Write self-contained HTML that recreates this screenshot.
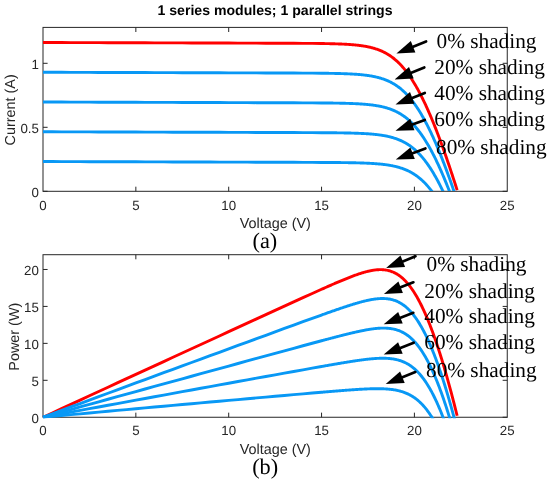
<!DOCTYPE html><html><head><meta charset="utf-8"><style>html,body{margin:0;padding:0;background:#fff}svg{display:block}</style></head><body><svg width="550" height="485" viewBox="0 0 550 485">
<rect width="550" height="485" fill="#fff"/>
<g text-rendering="geometricPrecision">
<defs><clipPath id="c1"><rect x="41.0" y="27.4" width="468.25" height="163.70000000000002"/></clipPath><clipPath id="c2"><rect x="41.0" y="254.7" width="468.25" height="163.55"/></clipPath></defs>
<g stroke="#262626" stroke-width="1" fill="none">
<rect x="43.0" y="27.4" width="464.25" height="163.9"/>
<path d="M135.85,191.3 v-4.6 M135.85,27.4 v4.6"/>
<path d="M228.70,191.3 v-4.6 M228.70,27.4 v4.6"/>
<path d="M321.55,191.3 v-4.6 M321.55,27.4 v4.6"/>
<path d="M414.40,191.3 v-4.6 M414.40,27.4 v4.6"/>
<path d="M43.0,191.30 h4.6 M507.25,191.30 h-4.6"/>
<path d="M43.0,127.30 h4.6 M507.25,127.30 h-4.6"/>
<path d="M43.0,63.30 h4.6 M507.25,63.30 h-4.6"/>
</g>
<g font-family="Liberation Sans, Arial, sans-serif" font-size="13.3" fill="#262626">
<text x="43.00" y="209.5" text-anchor="middle">0</text>
<text x="135.85" y="209.5" text-anchor="middle">5</text>
<text x="228.70" y="209.5" text-anchor="middle">10</text>
<text x="321.55" y="209.5" text-anchor="middle">15</text>
<text x="414.40" y="209.5" text-anchor="middle">20</text>
<text x="507.25" y="209.5" text-anchor="middle">25</text>
<text x="38.9" y="196.80" text-anchor="end">0</text>
<text x="38.9" y="132.80" text-anchor="end">0.5</text>
<text x="38.9" y="68.80" text-anchor="end">1</text>
</g>
<g stroke="#262626" stroke-width="1" fill="none">
<rect x="43.0" y="254.7" width="464.25" height="162.55"/>
<path d="M135.85,417.25 v-4.6 M135.85,254.7 v4.6"/>
<path d="M228.70,417.25 v-4.6 M228.70,254.7 v4.6"/>
<path d="M321.55,417.25 v-4.6 M321.55,254.7 v4.6"/>
<path d="M414.40,417.25 v-4.6 M414.40,254.7 v4.6"/>
<path d="M43.0,417.25 h4.6 M507.25,417.25 h-4.6"/>
<path d="M43.0,380.31 h4.6 M507.25,380.31 h-4.6"/>
<path d="M43.0,343.36 h4.6 M507.25,343.36 h-4.6"/>
<path d="M43.0,306.42 h4.6 M507.25,306.42 h-4.6"/>
<path d="M43.0,269.48 h4.6 M507.25,269.48 h-4.6"/>
</g>
<g font-family="Liberation Sans, Arial, sans-serif" font-size="13.3" fill="#262626">
<text x="43.00" y="435.45" text-anchor="middle">0</text>
<text x="135.85" y="435.45" text-anchor="middle">5</text>
<text x="228.70" y="435.45" text-anchor="middle">10</text>
<text x="321.55" y="435.45" text-anchor="middle">15</text>
<text x="414.40" y="435.45" text-anchor="middle">20</text>
<text x="507.25" y="435.45" text-anchor="middle">25</text>
<text x="38.9" y="422.75" text-anchor="end">0</text>
<text x="38.9" y="385.81" text-anchor="end">5</text>
<text x="38.9" y="348.86" text-anchor="end">10</text>
<text x="38.9" y="311.92" text-anchor="end">15</text>
<text x="38.9" y="274.98" text-anchor="end">20</text>
</g>
<path d="M43.00,42.49 L52.28,42.52 L61.57,42.55 L70.86,42.58 L80.14,42.61 L89.42,42.64 L98.71,42.67 L108.00,42.69 L117.28,42.72 L126.56,42.75 L135.85,42.78 L145.13,42.81 L154.42,42.84 L163.70,42.87 L172.99,42.89 L182.28,42.92 L191.56,42.95 L200.84,42.98 L210.13,43.01 L219.41,43.04 L228.70,43.07 L237.99,43.10 L247.27,43.12 L256.56,43.15 L265.84,43.19 L275.12,43.22 L284.41,43.25 L293.69,43.30 L302.98,43.35 L312.26,43.42 L321.55,43.53 L322.48,43.54 L323.10,43.55 L323.71,43.56 L324.33,43.57 L324.95,43.58 L325.57,43.59 L326.18,43.61 L326.80,43.62 L327.42,43.63 L328.04,43.64 L328.66,43.65 L329.27,43.67 L329.89,43.68 L330.51,43.69 L331.13,43.71 L331.74,43.72 L332.36,43.74 L332.98,43.76 L333.60,43.77 L334.21,43.79 L334.83,43.81 L335.45,43.83 L336.07,43.85 L336.69,43.87 L337.30,43.89 L337.92,43.91 L338.54,43.93 L339.16,43.95 L339.77,43.98 L340.39,44.00 L341.01,44.03 L341.63,44.05 L342.25,44.08 L342.86,44.11 L343.48,44.14 L344.10,44.17 L344.72,44.20 L345.33,44.23 L345.95,44.27 L346.57,44.30 L347.19,44.34 L347.80,44.38 L348.42,44.42 L349.04,44.46 L349.66,44.50 L350.28,44.55 L350.89,44.59 L351.51,44.64 L352.13,44.69 L352.75,44.74 L353.36,44.79 L353.98,44.85 L354.60,44.90 L355.22,44.96 L355.83,45.03 L356.45,45.09 L357.07,45.16 L357.69,45.22 L358.31,45.30 L358.92,45.37 L359.54,45.45 L360.16,45.53 L360.78,45.61 L361.39,45.69 L362.01,45.78 L362.63,45.87 L363.25,45.97 L363.86,46.07 L364.48,46.17 L365.10,46.28 L365.72,46.39 L366.34,46.50 L366.95,46.62 L367.57,46.74 L368.19,46.87 L368.81,47.00 L369.42,47.14 L370.04,47.28 L370.66,47.43 L371.28,47.58 L371.89,47.74 L372.51,47.90 L373.13,48.07 L373.75,48.25 L374.37,48.43 L374.98,48.62 L375.60,48.81 L376.22,49.01 L376.84,49.22 L377.45,49.43 L378.07,49.65 L378.69,49.88 L379.31,50.12 L379.93,50.37 L380.54,50.62 L381.16,50.88 L381.78,51.15 L382.40,51.43 L383.01,51.72 L383.63,52.02 L384.25,52.33 L384.87,52.65 L385.48,52.97 L386.10,53.31 L386.72,53.66 L387.34,54.02 L387.96,54.39 L388.57,54.77 L389.19,55.16 L389.81,55.57 L390.43,55.99 L391.04,56.42 L391.66,56.86 L392.28,57.31 L392.90,57.78 L393.51,58.26 L394.13,58.75 L394.75,59.26 L395.37,59.78 L395.99,60.32 L396.60,60.86 L397.22,61.43 L397.84,62.01 L398.46,62.60 L399.07,63.21 L399.69,63.83 L400.31,64.47 L400.93,65.12 L401.54,65.79 L402.16,66.48 L402.78,67.18 L403.40,67.90 L404.02,68.63 L404.63,69.38 L405.25,70.15 L405.87,70.94 L406.49,71.74 L407.10,72.55 L407.72,73.39 L408.34,74.24 L408.96,75.11 L409.57,75.99 L410.19,76.89 L410.81,77.81 L411.43,78.75 L412.05,79.70 L412.66,80.67 L413.28,81.66 L413.90,82.66 L414.52,83.69 L415.13,84.73 L415.75,85.78 L416.37,86.86 L416.99,87.95 L417.61,89.05 L418.22,90.18 L418.84,91.32 L419.46,92.48 L420.08,93.65 L420.69,94.84 L421.31,96.05 L421.93,97.28 L422.55,98.52 L423.16,99.78 L423.78,101.05 L424.40,102.34 L425.02,103.64 L425.64,104.97 L426.25,106.30 L426.87,107.66 L427.49,109.03 L428.11,110.41 L428.72,111.81 L429.34,113.22 L429.96,114.65 L430.58,116.09 L431.19,117.55 L431.81,119.03 L432.43,120.51 L433.05,122.02 L433.67,123.53 L434.28,125.06 L434.90,126.60 L435.52,128.16 L436.14,129.73 L436.75,131.32 L437.37,132.91 L437.99,134.52 L438.61,136.15 L439.22,137.78 L439.84,139.43 L440.46,141.09 L441.08,142.77 L441.70,144.45 L442.31,146.15 L442.93,147.86 L443.55,149.58 L444.17,151.31 L444.78,153.05 L445.40,154.81 L446.02,156.58 L446.64,158.35 L447.25,160.14 L447.87,161.94 L448.49,163.75 L449.11,165.57 L449.73,167.40 L450.34,169.24 L450.96,171.09 L451.58,172.95 L452.20,174.82 L452.81,176.70 L453.43,178.59 L454.05,180.49 L454.67,182.40 L455.29,184.32 L455.90,186.24 L456.52,188.18 L457.14,190.12" fill="none" stroke="#ff0000" stroke-width="2.9" stroke-linejoin="round" clip-path="url(#c1)"/>
<path d="M43.00,72.26 L52.28,72.28 L61.57,72.31 L70.86,72.34 L80.14,72.37 L89.42,72.40 L98.71,72.43 L108.00,72.46 L117.28,72.48 L126.56,72.51 L135.85,72.54 L145.13,72.57 L154.42,72.60 L163.70,72.63 L172.99,72.66 L182.28,72.68 L191.56,72.71 L200.84,72.74 L210.13,72.77 L219.41,72.80 L228.70,72.83 L237.99,72.86 L247.27,72.89 L256.56,72.91 L265.84,72.94 L275.12,72.98 L284.41,73.01 L293.69,73.05 L302.98,73.09 L312.26,73.15 L321.55,73.23 L322.48,73.24 L323.10,73.25 L323.71,73.26 L324.33,73.26 L324.95,73.27 L325.57,73.28 L326.18,73.29 L326.80,73.30 L327.42,73.30 L328.04,73.31 L328.66,73.32 L329.27,73.33 L329.89,73.34 L330.51,73.35 L331.13,73.36 L331.74,73.37 L332.36,73.38 L332.98,73.40 L333.60,73.41 L334.21,73.42 L334.83,73.43 L335.45,73.45 L336.07,73.46 L336.69,73.47 L337.30,73.49 L337.92,73.50 L338.54,73.52 L339.16,73.53 L339.77,73.55 L340.39,73.57 L341.01,73.59 L341.63,73.60 L342.25,73.62 L342.86,73.64 L343.48,73.66 L344.10,73.68 L344.72,73.71 L345.33,73.73 L345.95,73.75 L346.57,73.78 L347.19,73.80 L347.80,73.83 L348.42,73.86 L349.04,73.88 L349.66,73.91 L350.28,73.94 L350.89,73.98 L351.51,74.01 L352.13,74.04 L352.75,74.08 L353.36,74.11 L353.98,74.15 L354.60,74.19 L355.22,74.23 L355.83,74.28 L356.45,74.32 L357.07,74.36 L357.69,74.41 L358.31,74.46 L358.92,74.51 L359.54,74.56 L360.16,74.62 L360.78,74.68 L361.39,74.74 L362.01,74.80 L362.63,74.86 L363.25,74.93 L363.86,74.99 L364.48,75.07 L365.10,75.14 L365.72,75.22 L366.34,75.29 L366.95,75.38 L367.57,75.46 L368.19,75.55 L368.81,75.64 L369.42,75.74 L370.04,75.83 L370.66,75.94 L371.28,76.04 L371.89,76.15 L372.51,76.27 L373.13,76.38 L373.75,76.51 L374.37,76.63 L374.98,76.76 L375.60,76.90 L376.22,77.04 L376.84,77.19 L377.45,77.34 L378.07,77.50 L378.69,77.66 L379.31,77.83 L379.93,78.00 L380.54,78.18 L381.16,78.37 L381.78,78.56 L382.40,78.76 L383.01,78.97 L383.63,79.18 L384.25,79.40 L384.87,79.63 L385.48,79.87 L386.10,80.11 L386.72,80.36 L387.34,80.62 L387.96,80.89 L388.57,81.17 L389.19,81.46 L389.81,81.76 L390.43,82.06 L391.04,82.38 L391.66,82.70 L392.28,83.04 L392.90,83.39 L393.51,83.75 L394.13,84.11 L394.75,84.49 L395.37,84.89 L395.99,85.29 L396.60,85.70 L397.22,86.13 L397.84,86.57 L398.46,87.02 L399.07,87.49 L399.69,87.97 L400.31,88.46 L400.93,88.96 L401.54,89.48 L402.16,90.02 L402.78,90.56 L403.40,91.12 L404.02,91.70 L404.63,92.29 L405.25,92.90 L405.87,93.52 L406.49,94.15 L407.10,94.81 L407.72,95.47 L408.34,96.16 L408.96,96.86 L409.57,97.57 L410.19,98.30 L410.81,99.05 L411.43,99.82 L412.05,100.60 L412.66,101.40 L413.28,102.21 L413.90,103.04 L414.52,103.89 L415.13,104.76 L415.75,105.64 L416.37,106.54 L416.99,107.45 L417.61,108.39 L418.22,109.34 L418.84,110.31 L419.46,111.29 L420.08,112.29 L420.69,113.31 L421.31,114.35 L421.93,115.40 L422.55,116.47 L423.16,117.56 L423.78,118.67 L424.40,119.79 L425.02,120.93 L425.64,122.08 L426.25,123.26 L426.87,124.45 L427.49,125.65 L428.11,126.87 L428.72,128.11 L429.34,129.37 L429.96,130.64 L430.58,131.93 L431.19,133.23 L431.81,134.55 L432.43,135.88 L433.05,137.23 L433.67,138.60 L434.28,139.98 L434.90,141.38 L435.52,142.79 L436.14,144.22 L436.75,145.66 L437.37,147.12 L437.99,148.59 L438.61,150.07 L439.22,151.57 L439.84,153.08 L440.46,154.61 L441.08,156.15 L441.70,157.71 L442.31,159.28 L442.93,160.86 L443.55,162.45 L444.17,164.06 L444.78,165.68 L445.40,167.32 L446.02,168.97 L446.64,170.62 L447.25,172.30 L447.87,173.98 L448.49,175.67 L449.11,177.38 L449.73,179.10 L450.34,180.83 L450.96,182.57 L451.58,184.33 L452.20,186.09 L452.81,187.87 L453.43,189.66 L454.05,191.45 L454.67,193.26 L455.29,195.08 L455.90,196.91 L456.52,198.75" fill="none" stroke="#0898f5" stroke-width="2.9" stroke-linejoin="round" clip-path="url(#c1)"/>
<path d="M43.00,102.02 L52.28,102.05 L61.57,102.07 L70.86,102.10 L80.14,102.13 L89.42,102.16 L98.71,102.19 L108.00,102.22 L117.28,102.25 L126.56,102.27 L135.85,102.30 L145.13,102.33 L154.42,102.36 L163.70,102.39 L172.99,102.42 L182.28,102.45 L191.56,102.47 L200.84,102.50 L210.13,102.53 L219.41,102.56 L228.70,102.59 L237.99,102.62 L247.27,102.65 L256.56,102.68 L265.84,102.70 L275.12,102.74 L284.41,102.77 L293.69,102.80 L302.98,102.84 L312.26,102.89 L321.55,102.95 L322.48,102.96 L323.10,102.97 L323.71,102.97 L324.33,102.98 L324.95,102.98 L325.57,102.99 L326.18,103.00 L326.80,103.00 L327.42,103.01 L328.04,103.01 L328.66,103.02 L329.27,103.03 L329.89,103.04 L330.51,103.04 L331.13,103.05 L331.74,103.06 L332.36,103.07 L332.98,103.07 L333.60,103.08 L334.21,103.09 L334.83,103.10 L335.45,103.11 L336.07,103.12 L336.69,103.13 L337.30,103.14 L337.92,103.15 L338.54,103.16 L339.16,103.17 L339.77,103.19 L340.39,103.20 L341.01,103.21 L341.63,103.22 L342.25,103.24 L342.86,103.25 L343.48,103.27 L344.10,103.28 L344.72,103.30 L345.33,103.31 L345.95,103.33 L346.57,103.35 L347.19,103.36 L347.80,103.38 L348.42,103.40 L349.04,103.42 L349.66,103.44 L350.28,103.46 L350.89,103.48 L351.51,103.51 L352.13,103.53 L352.75,103.55 L353.36,103.58 L353.98,103.61 L354.60,103.63 L355.22,103.66 L355.83,103.69 L356.45,103.72 L357.07,103.75 L357.69,103.78 L358.31,103.82 L358.92,103.85 L359.54,103.89 L360.16,103.93 L360.78,103.97 L361.39,104.01 L362.01,104.05 L362.63,104.09 L363.25,104.14 L363.86,104.19 L364.48,104.23 L365.10,104.28 L365.72,104.34 L366.34,104.39 L366.95,104.45 L367.57,104.51 L368.19,104.57 L368.81,104.63 L369.42,104.70 L370.04,104.76 L370.66,104.84 L371.28,104.91 L371.89,104.98 L372.51,105.06 L373.13,105.14 L373.75,105.23 L374.37,105.32 L374.98,105.41 L375.60,105.50 L376.22,105.60 L376.84,105.70 L377.45,105.81 L378.07,105.92 L378.69,106.03 L379.31,106.15 L379.93,106.27 L380.54,106.39 L381.16,106.53 L381.78,106.66 L382.40,106.80 L383.01,106.95 L383.63,107.10 L384.25,107.25 L384.87,107.41 L385.48,107.58 L386.10,107.75 L386.72,107.93 L387.34,108.12 L387.96,108.31 L388.57,108.51 L389.19,108.72 L389.81,108.93 L390.43,109.15 L391.04,109.38 L391.66,109.61 L392.28,109.85 L392.90,110.11 L393.51,110.37 L394.13,110.63 L394.75,110.91 L395.37,111.20 L395.99,111.49 L396.60,111.80 L397.22,112.11 L397.84,112.44 L398.46,112.77 L399.07,113.12 L399.69,113.47 L400.31,113.84 L400.93,114.22 L401.54,114.61 L402.16,115.01 L402.78,115.42 L403.40,115.85 L404.02,116.29 L404.63,116.74 L405.25,117.20 L405.87,117.68 L406.49,118.16 L407.10,118.67 L407.72,119.18 L408.34,119.72 L408.96,120.26 L409.57,120.82 L410.19,121.39 L410.81,121.98 L411.43,122.59 L412.05,123.21 L412.66,123.84 L413.28,124.49 L413.90,125.15 L414.52,125.84 L415.13,126.53 L415.75,127.25 L416.37,127.97 L416.99,128.72 L417.61,129.48 L418.22,130.26 L418.84,131.06 L419.46,131.87 L420.08,132.70 L420.69,133.54 L421.31,134.41 L421.93,135.29 L422.55,136.18 L423.16,137.10 L423.78,138.03 L424.40,138.98 L425.02,139.94 L425.64,140.92 L426.25,141.92 L426.87,142.94 L427.49,143.97 L428.11,145.03 L428.72,146.09 L429.34,147.18 L429.96,148.28 L430.58,149.40 L431.19,150.54 L431.81,151.69 L432.43,152.86 L433.05,154.05 L433.67,155.25 L434.28,156.47 L434.90,157.71 L435.52,158.96 L436.14,160.23 L436.75,161.51 L437.37,162.82 L437.99,164.13 L438.61,165.46 L439.22,166.81 L439.84,168.18 L440.46,169.56 L441.08,170.95 L441.70,172.36 L442.31,173.78 L442.93,175.22 L443.55,176.68 L444.17,178.15 L444.78,179.63 L445.40,181.13 L446.02,182.64 L446.64,184.16 L447.25,185.70 L447.87,187.26 L448.49,188.82 L449.11,190.40 L449.73,192.00 L450.34,193.60 L450.96,195.22 L451.58,196.85 L452.20,198.50" fill="none" stroke="#0898f5" stroke-width="2.9" stroke-linejoin="round" clip-path="url(#c1)"/>
<path d="M43.00,131.78 L52.28,131.81 L61.57,131.83 L70.86,131.86 L80.14,131.89 L89.42,131.92 L98.71,131.95 L108.00,131.98 L117.28,132.01 L126.56,132.03 L135.85,132.06 L145.13,132.09 L154.42,132.12 L163.70,132.15 L172.99,132.18 L182.28,132.21 L191.56,132.24 L200.84,132.26 L210.13,132.29 L219.41,132.32 L228.70,132.35 L237.99,132.38 L247.27,132.41 L256.56,132.44 L265.84,132.47 L275.12,132.50 L284.41,132.53 L293.69,132.56 L302.98,132.59 L312.26,132.64 L321.55,132.69 L322.48,132.69 L323.10,132.70 L323.71,132.70 L324.33,132.71 L324.95,132.71 L325.57,132.72 L326.18,132.72 L326.80,132.73 L327.42,132.73 L328.04,132.74 L328.66,132.74 L329.27,132.75 L329.89,132.75 L330.51,132.76 L331.13,132.76 L331.74,132.77 L332.36,132.78 L332.98,132.78 L333.60,132.79 L334.21,132.79 L334.83,132.80 L335.45,132.81 L336.07,132.82 L336.69,132.82 L337.30,132.83 L337.92,132.84 L338.54,132.85 L339.16,132.85 L339.77,132.86 L340.39,132.87 L341.01,132.88 L341.63,132.89 L342.25,132.90 L342.86,132.91 L343.48,132.92 L344.10,132.93 L344.72,132.94 L345.33,132.95 L345.95,132.96 L346.57,132.98 L347.19,132.99 L347.80,133.00 L348.42,133.02 L349.04,133.03 L349.66,133.04 L350.28,133.06 L350.89,133.07 L351.51,133.09 L352.13,133.11 L352.75,133.12 L353.36,133.14 L353.98,133.16 L354.60,133.18 L355.22,133.20 L355.83,133.22 L356.45,133.24 L357.07,133.26 L357.69,133.28 L358.31,133.31 L358.92,133.33 L359.54,133.36 L360.16,133.38 L360.78,133.41 L361.39,133.44 L362.01,133.47 L362.63,133.50 L363.25,133.53 L363.86,133.56 L364.48,133.59 L365.10,133.63 L365.72,133.66 L366.34,133.70 L366.95,133.74 L367.57,133.78 L368.19,133.82 L368.81,133.87 L369.42,133.91 L370.04,133.96 L370.66,134.01 L371.28,134.06 L371.89,134.11 L372.51,134.16 L373.13,134.22 L373.75,134.28 L374.37,134.34 L374.98,134.40 L375.60,134.47 L376.22,134.53 L376.84,134.60 L377.45,134.68 L378.07,134.75 L378.69,134.83 L379.31,134.91 L379.93,135.00 L380.54,135.08 L381.16,135.17 L381.78,135.27 L382.40,135.37 L383.01,135.47 L383.63,135.57 L384.25,135.68 L384.87,135.79 L385.48,135.91 L386.10,136.03 L386.72,136.16 L387.34,136.29 L387.96,136.42 L388.57,136.56 L389.19,136.70 L389.81,136.85 L390.43,137.01 L391.04,137.17 L391.66,137.34 L392.28,137.51 L392.90,137.69 L393.51,137.87 L394.13,138.06 L394.75,138.26 L395.37,138.47 L395.99,138.68 L396.60,138.90 L397.22,139.12 L397.84,139.36 L398.46,139.60 L399.07,139.85 L399.69,140.11 L400.31,140.37 L400.93,140.65 L401.54,140.93 L402.16,141.23 L402.78,141.53 L403.40,141.84 L404.02,142.17 L404.63,142.50 L405.25,142.84 L405.87,143.20 L406.49,143.56 L407.10,143.94 L407.72,144.33 L408.34,144.73 L408.96,145.14 L409.57,145.56 L410.19,146.00 L410.81,146.45 L411.43,146.91 L412.05,147.38 L412.66,147.87 L413.28,148.37 L413.90,148.89 L414.52,149.42 L415.13,149.96 L415.75,150.52 L416.37,151.09 L416.99,151.67 L417.61,152.28 L418.22,152.89 L418.84,153.52 L419.46,154.17 L420.08,154.83 L420.69,155.51 L421.31,156.21 L421.93,156.92 L422.55,157.65 L423.16,158.39 L423.78,159.15 L424.40,159.92 L425.02,160.72 L425.64,161.53 L426.25,162.35 L426.87,163.20 L427.49,164.06 L428.11,164.93 L428.72,165.83 L429.34,166.74 L429.96,167.67 L430.58,168.61 L431.19,169.58 L431.81,170.56 L432.43,171.55 L433.05,172.57 L433.67,173.60 L434.28,174.65 L434.90,175.72 L435.52,176.80 L436.14,177.90 L436.75,179.01 L437.37,180.15 L437.99,181.30 L438.61,182.47 L439.22,183.65 L439.84,184.85 L440.46,186.07 L441.08,187.30 L441.70,188.55 L442.31,189.82 L442.93,191.10 L443.55,192.40 L444.17,193.72 L444.78,195.05 L445.40,196.39 L446.02,197.75" fill="none" stroke="#0898f5" stroke-width="2.9" stroke-linejoin="round" clip-path="url(#c1)"/>
<path d="M43.00,161.54 L52.28,161.57 L61.57,161.60 L70.86,161.62 L80.14,161.65 L89.42,161.68 L98.71,161.71 L108.00,161.74 L117.28,161.77 L126.56,161.80 L135.85,161.82 L145.13,161.85 L154.42,161.88 L163.70,161.91 L172.99,161.94 L182.28,161.97 L191.56,162.00 L200.84,162.02 L210.13,162.05 L219.41,162.08 L228.70,162.11 L237.99,162.14 L247.27,162.17 L256.56,162.20 L265.84,162.23 L275.12,162.26 L284.41,162.29 L293.69,162.32 L302.98,162.35 L312.26,162.39 L321.55,162.43 L322.48,162.44 L323.10,162.44 L323.71,162.44 L324.33,162.45 L324.95,162.45 L325.57,162.46 L326.18,162.46 L326.80,162.46 L327.42,162.47 L328.04,162.47 L328.66,162.47 L329.27,162.48 L329.89,162.48 L330.51,162.49 L331.13,162.49 L331.74,162.50 L332.36,162.50 L332.98,162.51 L333.60,162.51 L334.21,162.52 L334.83,162.52 L335.45,162.53 L336.07,162.53 L336.69,162.54 L337.30,162.54 L337.92,162.55 L338.54,162.55 L339.16,162.56 L339.77,162.57 L340.39,162.57 L341.01,162.58 L341.63,162.59 L342.25,162.59 L342.86,162.60 L343.48,162.61 L344.10,162.62 L344.72,162.63 L345.33,162.63 L345.95,162.64 L346.57,162.65 L347.19,162.66 L347.80,162.67 L348.42,162.68 L349.04,162.69 L349.66,162.70 L350.28,162.71 L350.89,162.72 L351.51,162.73 L352.13,162.74 L352.75,162.76 L353.36,162.77 L353.98,162.78 L354.60,162.79 L355.22,162.81 L355.83,162.82 L356.45,162.84 L357.07,162.85 L357.69,162.87 L358.31,162.88 L358.92,162.90 L359.54,162.92 L360.16,162.94 L360.78,162.96 L361.39,162.98 L362.01,163.00 L362.63,163.02 L363.25,163.04 L363.86,163.06 L364.48,163.08 L365.10,163.11 L365.72,163.13 L366.34,163.16 L366.95,163.19 L367.57,163.21 L368.19,163.24 L368.81,163.27 L369.42,163.30 L370.04,163.34 L370.66,163.37 L371.28,163.40 L371.89,163.44 L372.51,163.48 L373.13,163.52 L373.75,163.56 L374.37,163.60 L374.98,163.64 L375.60,163.69 L376.22,163.73 L376.84,163.78 L377.45,163.83 L378.07,163.88 L378.69,163.94 L379.31,163.99 L379.93,164.05 L380.54,164.11 L381.16,164.17 L381.78,164.24 L382.40,164.30 L383.01,164.37 L383.63,164.45 L384.25,164.52 L384.87,164.60 L385.48,164.68 L386.10,164.76 L386.72,164.85 L387.34,164.94 L387.96,165.03 L388.57,165.13 L389.19,165.23 L389.81,165.34 L390.43,165.44 L391.04,165.56 L391.66,165.67 L392.28,165.79 L392.90,165.92 L393.51,166.05 L394.13,166.18 L394.75,166.32 L395.37,166.46 L395.99,166.61 L396.60,166.77 L397.22,166.93 L397.84,167.09 L398.46,167.26 L399.07,167.44 L399.69,167.62 L400.31,167.81 L400.93,168.01 L401.54,168.21 L402.16,168.43 L402.78,168.64 L403.40,168.87 L404.02,169.10 L404.63,169.34 L405.25,169.59 L405.87,169.85 L406.49,170.11 L407.10,170.39 L407.72,170.67 L408.34,170.96 L408.96,171.27 L409.57,171.58 L410.19,171.90 L410.81,172.23 L411.43,172.57 L412.05,172.93 L412.66,173.29 L413.28,173.66 L413.90,174.05 L414.52,174.45 L415.13,174.86 L415.75,175.28 L416.37,175.71 L416.99,176.16 L417.61,176.62 L418.22,177.09 L418.84,177.58 L419.46,178.08 L420.08,178.59 L420.69,179.12 L421.31,179.66 L421.93,180.21 L422.55,180.78 L423.16,181.37 L423.78,181.97 L424.40,182.58 L425.02,183.21 L425.64,183.86 L426.25,184.52 L426.87,185.19 L427.49,185.88 L428.11,186.59 L428.72,187.32 L429.34,188.06 L429.96,188.81 L430.58,189.59 L431.19,190.38 L431.81,191.19 L432.43,192.01 L433.05,192.85 L433.67,193.71 L434.28,194.58 L434.90,195.47 L435.52,196.38 L436.14,197.31 L436.75,198.25" fill="none" stroke="#0898f5" stroke-width="2.9" stroke-linejoin="round" clip-path="url(#c1)"/>
<path d="M43.00,417.25 L52.28,412.96 L61.57,408.66 L70.86,404.37 L80.14,400.08 L89.42,395.80 L98.71,391.51 L108.00,387.23 L117.28,382.94 L126.56,378.66 L135.85,374.38 L145.13,370.11 L154.42,365.83 L163.70,361.56 L172.99,357.28 L182.28,353.01 L191.56,348.74 L200.84,344.48 L210.13,340.21 L219.41,335.95 L228.70,331.68 L237.99,327.42 L247.27,323.16 L256.56,318.91 L265.84,314.65 L275.12,310.40 L284.41,306.16 L293.69,301.91 L302.98,297.69 L312.26,293.48 L321.55,289.30 L322.48,288.89 L323.10,288.61 L323.71,288.34 L324.33,288.06 L324.95,287.79 L325.57,287.51 L326.18,287.24 L326.80,286.97 L327.42,286.69 L328.04,286.42 L328.66,286.15 L329.27,285.88 L329.89,285.61 L330.51,285.33 L331.13,285.06 L331.74,284.79 L332.36,284.52 L332.98,284.26 L333.60,283.99 L334.21,283.72 L334.83,283.45 L335.45,283.19 L336.07,282.92 L336.69,282.66 L337.30,282.39 L337.92,282.13 L338.54,281.87 L339.16,281.60 L339.77,281.34 L340.39,281.08 L341.01,280.82 L341.63,280.57 L342.25,280.31 L342.86,280.05 L343.48,279.80 L344.10,279.54 L344.72,279.29 L345.33,279.04 L345.95,278.79 L346.57,278.54 L347.19,278.29 L347.80,278.05 L348.42,277.80 L349.04,277.56 L349.66,277.32 L350.28,277.08 L350.89,276.84 L351.51,276.60 L352.13,276.37 L352.75,276.14 L353.36,275.91 L353.98,275.68 L354.60,275.45 L355.22,275.23 L355.83,275.01 L356.45,274.79 L357.07,274.57 L357.69,274.36 L358.31,274.15 L358.92,273.94 L359.54,273.74 L360.16,273.54 L360.78,273.34 L361.39,273.14 L362.01,272.95 L362.63,272.76 L363.25,272.58 L363.86,272.40 L364.48,272.22 L365.10,272.05 L365.72,271.88 L366.34,271.72 L366.95,271.56 L367.57,271.41 L368.19,271.26 L368.81,271.11 L369.42,270.98 L370.04,270.84 L370.66,270.72 L371.28,270.60 L371.89,270.48 L372.51,270.37 L373.13,270.27 L373.75,270.18 L374.37,270.09 L374.98,270.01 L375.60,269.93 L376.22,269.87 L376.84,269.81 L377.45,269.76 L378.07,269.72 L378.69,269.69 L379.31,269.66 L379.93,269.65 L380.54,269.65 L381.16,269.65 L381.78,269.67 L382.40,269.69 L383.01,269.73 L383.63,269.78 L384.25,269.84 L384.87,269.91 L385.48,269.99 L386.10,270.08 L386.72,270.19 L387.34,270.31 L387.96,270.45 L388.57,270.59 L389.19,270.75 L389.81,270.93 L390.43,271.12 L391.04,271.32 L391.66,271.54 L392.28,271.78 L392.90,272.03 L393.51,272.29 L394.13,272.58 L394.75,272.88 L395.37,273.20 L395.99,273.53 L396.60,273.88 L397.22,274.25 L397.84,274.64 L398.46,275.05 L399.07,275.47 L399.69,275.92 L400.31,276.38 L400.93,276.87 L401.54,277.37 L402.16,277.90 L402.78,278.44 L403.40,279.01 L404.02,279.60 L404.63,280.20 L405.25,280.83 L405.87,281.48 L406.49,282.16 L407.10,282.85 L407.72,283.57 L408.34,284.31 L408.96,285.07 L409.57,285.86 L410.19,286.67 L410.81,287.50 L411.43,288.35 L412.05,289.23 L412.66,290.13 L413.28,291.05 L413.90,292.00 L414.52,292.97 L415.13,293.97 L415.75,294.99 L416.37,296.03 L416.99,297.10 L417.61,298.19 L418.22,299.31 L418.84,300.44 L419.46,301.61 L420.08,302.80 L420.69,304.01 L421.31,305.24 L421.93,306.50 L422.55,307.79 L423.16,309.09 L423.78,310.43 L424.40,311.78 L425.02,313.16 L425.64,314.57 L426.25,315.99 L426.87,317.44 L427.49,318.92 L428.11,320.42 L428.72,321.94 L429.34,323.48 L429.96,325.05 L430.58,326.65 L431.19,328.26 L431.81,329.90 L432.43,331.56 L433.05,333.25 L433.67,334.95 L434.28,336.68 L434.90,338.44 L435.52,340.21 L436.14,342.01 L436.75,343.83 L437.37,345.67 L437.99,347.54 L438.61,349.43 L439.22,351.34 L439.84,353.27 L440.46,355.22 L441.08,357.19 L441.70,359.19 L442.31,361.21 L442.93,363.24 L443.55,365.30 L444.17,367.38 L444.78,369.48 L445.40,371.61 L446.02,373.75 L446.64,375.91 L447.25,378.10 L447.87,380.30 L448.49,382.53 L449.11,384.77 L449.73,387.04 L450.34,389.32 L450.96,391.62 L451.58,393.95 L452.20,396.29 L452.81,398.66 L453.43,401.04 L454.05,403.44 L454.67,405.86 L455.29,408.30 L455.90,410.76 L456.52,413.24 L457.14,415.74" fill="none" stroke="#ff0000" stroke-width="2.9" stroke-linejoin="round" clip-path="url(#c2)"/>
<path d="M43.00,417.25 L52.28,413.81 L61.57,410.38 L70.86,406.95 L80.14,403.52 L89.42,400.09 L98.71,396.66 L108.00,393.24 L117.28,389.82 L126.56,386.39 L135.85,382.97 L145.13,379.56 L154.42,376.14 L163.70,372.72 L172.99,369.31 L182.28,365.90 L191.56,362.49 L200.84,359.08 L210.13,355.67 L219.41,352.27 L228.70,348.86 L237.99,345.46 L247.27,342.06 L256.56,338.66 L265.84,335.27 L275.12,331.87 L284.41,328.48 L293.69,325.10 L302.98,321.72 L312.26,318.36 L321.55,315.02 L322.48,314.69 L323.10,314.47 L323.71,314.25 L324.33,314.03 L324.95,313.81 L325.57,313.59 L326.18,313.37 L326.80,313.15 L327.42,312.93 L328.04,312.71 L328.66,312.49 L329.27,312.27 L329.89,312.06 L330.51,311.84 L331.13,311.62 L331.74,311.41 L332.36,311.19 L332.98,310.97 L333.60,310.76 L334.21,310.54 L334.83,310.33 L335.45,310.11 L336.07,309.90 L336.69,309.68 L337.30,309.47 L337.92,309.26 L338.54,309.05 L339.16,308.84 L339.77,308.63 L340.39,308.42 L341.01,308.21 L341.63,308.00 L342.25,307.79 L342.86,307.58 L343.48,307.37 L344.10,307.17 L344.72,306.96 L345.33,306.76 L345.95,306.56 L346.57,306.35 L347.19,306.15 L347.80,305.95 L348.42,305.75 L349.04,305.55 L349.66,305.35 L350.28,305.16 L350.89,304.96 L351.51,304.77 L352.13,304.58 L352.75,304.39 L353.36,304.20 L353.98,304.01 L354.60,303.82 L355.22,303.64 L355.83,303.45 L356.45,303.27 L357.07,303.09 L357.69,302.91 L358.31,302.74 L358.92,302.56 L359.54,302.39 L360.16,302.22 L360.78,302.05 L361.39,301.89 L362.01,301.72 L362.63,301.56 L363.25,301.40 L363.86,301.25 L364.48,301.10 L365.10,300.95 L365.72,300.80 L366.34,300.66 L366.95,300.52 L367.57,300.38 L368.19,300.25 L368.81,300.12 L369.42,299.99 L370.04,299.87 L370.66,299.75 L371.28,299.64 L371.89,299.53 L372.51,299.42 L373.13,299.32 L373.75,299.23 L374.37,299.14 L374.98,299.06 L375.60,298.98 L376.22,298.90 L376.84,298.83 L377.45,298.77 L378.07,298.72 L378.69,298.67 L379.31,298.63 L379.93,298.59 L380.54,298.56 L381.16,298.54 L381.78,298.53 L382.40,298.52 L383.01,298.52 L383.63,298.53 L384.25,298.55 L384.87,298.58 L385.48,298.62 L386.10,298.67 L386.72,298.72 L387.34,298.79 L387.96,298.86 L388.57,298.95 L389.19,299.05 L389.81,299.16 L390.43,299.28 L391.04,299.41 L391.66,299.56 L392.28,299.71 L392.90,299.88 L393.51,300.06 L394.13,300.26 L394.75,300.47 L395.37,300.69 L395.99,300.93 L396.60,301.18 L397.22,301.45 L397.84,301.73 L398.46,302.03 L399.07,302.35 L399.69,302.68 L400.31,303.03 L400.93,303.39 L401.54,303.77 L402.16,304.17 L402.78,304.59 L403.40,305.03 L404.02,305.48 L404.63,305.95 L405.25,306.45 L405.87,306.96 L406.49,307.49 L407.10,308.04 L407.72,308.61 L408.34,309.20 L408.96,309.82 L409.57,310.45 L410.19,311.11 L410.81,311.78 L411.43,312.48 L412.05,313.20 L412.66,313.94 L413.28,314.71 L413.90,315.50 L414.52,316.31 L415.13,317.14 L415.75,317.99 L416.37,318.87 L416.99,319.78 L417.61,320.70 L418.22,321.65 L418.84,322.63 L419.46,323.62 L420.08,324.65 L420.69,325.69 L421.31,326.76 L421.93,327.85 L422.55,328.97 L423.16,330.11 L423.78,331.28 L424.40,332.47 L425.02,333.69 L425.64,334.93 L426.25,336.19 L426.87,337.48 L427.49,338.79 L428.11,340.13 L428.72,341.49 L429.34,342.87 L429.96,344.28 L430.58,345.72 L431.19,347.18 L431.81,348.66 L432.43,350.17 L433.05,351.70 L433.67,353.25 L434.28,354.83 L434.90,356.44 L435.52,358.06 L436.14,359.71 L436.75,361.39 L437.37,363.09 L437.99,364.81 L438.61,366.55 L439.22,368.32 L439.84,370.11 L440.46,371.92 L441.08,373.76 L441.70,375.62 L442.31,377.50 L442.93,379.41 L443.55,381.34 L444.17,383.29 L444.78,385.26 L445.40,387.25 L446.02,389.27 L446.64,391.31 L447.25,393.37 L447.87,395.45 L448.49,397.56 L449.11,399.68 L449.73,401.83 L450.34,404.00 L450.96,406.19 L451.58,408.40 L452.20,410.63 L452.81,412.88 L453.43,415.15 L454.05,417.45 L454.67,419.76 L455.29,422.09 L455.90,424.45 L456.52,426.82" fill="none" stroke="#0898f5" stroke-width="2.9" stroke-linejoin="round" clip-path="url(#c2)"/>
<path d="M43.00,417.25 L52.28,414.67 L61.57,412.10 L70.86,409.53 L80.14,406.96 L89.42,404.39 L98.71,401.82 L108.00,399.25 L117.28,396.69 L126.56,394.12 L135.85,391.56 L145.13,389.00 L154.42,386.45 L163.70,383.89 L172.99,381.34 L182.28,378.78 L191.56,376.23 L200.84,373.68 L210.13,371.13 L219.41,368.59 L228.70,366.04 L237.99,363.50 L247.27,360.96 L256.56,358.42 L265.84,355.88 L275.12,353.35 L284.41,350.81 L293.69,348.29 L302.98,345.76 L312.26,343.25 L321.55,340.76 L322.48,340.51 L323.10,340.34 L323.71,340.18 L324.33,340.01 L324.95,339.85 L325.57,339.68 L326.18,339.52 L326.80,339.35 L327.42,339.19 L328.04,339.03 L328.66,338.86 L329.27,338.70 L329.89,338.54 L330.51,338.37 L331.13,338.21 L331.74,338.05 L332.36,337.89 L332.98,337.73 L333.60,337.56 L334.21,337.40 L334.83,337.24 L335.45,337.08 L336.07,336.92 L336.69,336.76 L337.30,336.60 L337.92,336.44 L338.54,336.28 L339.16,336.12 L339.77,335.96 L340.39,335.81 L341.01,335.65 L341.63,335.49 L342.25,335.34 L342.86,335.18 L343.48,335.02 L344.10,334.87 L344.72,334.71 L345.33,334.56 L345.95,334.41 L346.57,334.25 L347.19,334.10 L347.80,333.95 L348.42,333.80 L349.04,333.65 L349.66,333.50 L350.28,333.35 L350.89,333.20 L351.51,333.06 L352.13,332.91 L352.75,332.77 L353.36,332.62 L353.98,332.48 L354.60,332.34 L355.22,332.20 L355.83,332.06 L356.45,331.92 L357.07,331.78 L357.69,331.64 L358.31,331.51 L358.92,331.38 L359.54,331.24 L360.16,331.11 L360.78,330.98 L361.39,330.86 L362.01,330.73 L362.63,330.61 L363.25,330.48 L363.86,330.36 L364.48,330.24 L365.10,330.13 L365.72,330.01 L366.34,329.90 L366.95,329.79 L367.57,329.68 L368.19,329.58 L368.81,329.48 L369.42,329.38 L370.04,329.28 L370.66,329.18 L371.28,329.09 L371.89,329.00 L372.51,328.92 L373.13,328.84 L373.75,328.76 L374.37,328.68 L374.98,328.61 L375.60,328.55 L376.22,328.48 L376.84,328.42 L377.45,328.37 L378.07,328.32 L378.69,328.27 L379.31,328.23 L379.93,328.20 L380.54,328.16 L381.16,328.14 L381.78,328.12 L382.40,328.10 L383.01,328.10 L383.63,328.09 L384.25,328.10 L384.87,328.11 L385.48,328.12 L386.10,328.15 L386.72,328.18 L387.34,328.22 L387.96,328.26 L388.57,328.32 L389.19,328.38 L389.81,328.45 L390.43,328.53 L391.04,328.62 L391.66,328.72 L392.28,328.82 L392.90,328.94 L393.51,329.07 L394.13,329.20 L394.75,329.35 L395.37,329.51 L395.99,329.68 L396.60,329.86 L397.22,330.06 L397.84,330.26 L398.46,330.48 L399.07,330.71 L399.69,330.96 L400.31,331.22 L400.93,331.49 L401.54,331.77 L402.16,332.08 L402.78,332.39 L403.40,332.72 L404.02,333.07 L404.63,333.43 L405.25,333.81 L405.87,334.20 L406.49,334.62 L407.10,335.05 L407.72,335.49 L408.34,335.96 L408.96,336.44 L409.57,336.94 L410.19,337.46 L410.81,338.00 L411.43,338.56 L412.05,339.13 L412.66,339.73 L413.28,340.35 L413.90,340.99 L414.52,341.65 L415.13,342.33 L415.75,343.03 L416.37,343.75 L416.99,344.50 L417.61,345.27 L418.22,346.06 L418.84,346.87 L419.46,347.70 L420.08,348.56 L420.69,349.44 L421.31,350.34 L421.93,351.27 L422.55,352.22 L423.16,353.20 L423.78,354.19 L424.40,355.22 L425.02,356.26 L425.64,357.33 L426.25,358.43 L426.87,359.55 L427.49,360.69 L428.11,361.86 L428.72,363.05 L429.34,364.27 L429.96,365.51 L430.58,366.77 L431.19,368.06 L431.81,369.38 L432.43,370.72 L433.05,372.08 L433.67,373.47 L434.28,374.89 L434.90,376.33 L435.52,377.79 L436.14,379.28 L436.75,380.79 L437.37,382.33 L437.99,383.89 L438.61,385.48 L439.22,387.09 L439.84,388.73 L440.46,390.39 L441.08,392.07 L441.70,393.78 L442.31,395.51 L442.93,397.27 L443.55,399.04 L444.17,400.85 L444.78,402.68 L445.40,404.53 L446.02,406.40 L446.64,408.30 L447.25,410.22 L447.87,412.16 L448.49,414.13 L449.11,416.12 L449.73,418.13 L450.34,420.17 L450.96,422.22 L451.58,424.30 L452.20,426.41" fill="none" stroke="#0898f5" stroke-width="2.9" stroke-linejoin="round" clip-path="url(#c2)"/>
<path d="M43.00,417.25 L52.28,415.53 L61.57,413.82 L70.86,412.10 L80.14,410.39 L89.42,408.68 L98.71,406.97 L108.00,405.26 L117.28,403.56 L126.56,401.86 L135.85,400.15 L145.13,398.45 L154.42,396.75 L163.70,395.06 L172.99,393.36 L182.28,391.67 L191.56,389.97 L200.84,388.28 L210.13,386.59 L219.41,384.91 L228.70,383.22 L237.99,381.54 L247.27,379.86 L256.56,378.17 L265.84,376.50 L275.12,374.82 L284.41,373.15 L293.69,371.47 L302.98,369.81 L312.26,368.15 L321.55,366.50 L322.48,366.34 L323.10,366.23 L323.71,366.12 L324.33,366.01 L324.95,365.90 L325.57,365.79 L326.18,365.69 L326.80,365.58 L327.42,365.47 L328.04,365.36 L328.66,365.25 L329.27,365.15 L329.89,365.04 L330.51,364.93 L331.13,364.82 L331.74,364.72 L332.36,364.61 L332.98,364.50 L333.60,364.40 L334.21,364.29 L334.83,364.18 L335.45,364.08 L336.07,363.97 L336.69,363.87 L337.30,363.76 L337.92,363.66 L338.54,363.55 L339.16,363.45 L339.77,363.34 L340.39,363.24 L341.01,363.13 L341.63,363.03 L342.25,362.93 L342.86,362.82 L343.48,362.72 L344.10,362.62 L344.72,362.52 L345.33,362.42 L345.95,362.32 L346.57,362.21 L347.19,362.11 L347.80,362.01 L348.42,361.92 L349.04,361.82 L349.66,361.72 L350.28,361.62 L350.89,361.52 L351.51,361.43 L352.13,361.33 L352.75,361.24 L353.36,361.14 L353.98,361.05 L354.60,360.95 L355.22,360.86 L355.83,360.77 L356.45,360.68 L357.07,360.59 L357.69,360.50 L358.31,360.41 L358.92,360.32 L359.54,360.24 L360.16,360.15 L360.78,360.07 L361.39,359.98 L362.01,359.90 L362.63,359.82 L363.25,359.74 L363.86,359.66 L364.48,359.58 L365.10,359.51 L365.72,359.43 L366.34,359.36 L366.95,359.29 L367.57,359.22 L368.19,359.15 L368.81,359.08 L369.42,359.02 L370.04,358.96 L370.66,358.90 L371.28,358.84 L371.89,358.78 L372.51,358.73 L373.13,358.68 L373.75,358.63 L374.37,358.58 L374.98,358.53 L375.60,358.49 L376.22,358.45 L376.84,358.42 L377.45,358.38 L378.07,358.35 L378.69,358.33 L379.31,358.30 L379.93,358.28 L380.54,358.27 L381.16,358.25 L381.78,358.24 L382.40,358.24 L383.01,358.24 L383.63,358.24 L384.25,358.25 L384.87,358.26 L385.48,358.28 L386.10,358.30 L386.72,358.33 L387.34,358.37 L387.96,358.40 L388.57,358.45 L389.19,358.50 L389.81,358.56 L390.43,358.62 L391.04,358.69 L391.66,358.77 L392.28,358.85 L392.90,358.94 L393.51,359.04 L394.13,359.14 L394.75,359.26 L395.37,359.38 L395.99,359.51 L396.60,359.65 L397.22,359.80 L397.84,359.96 L398.46,360.12 L399.07,360.30 L399.69,360.49 L400.31,360.69 L400.93,360.90 L401.54,361.12 L402.16,361.35 L402.78,361.59 L403.40,361.85 L404.02,362.11 L404.63,362.39 L405.25,362.69 L405.87,362.99 L406.49,363.31 L407.10,363.65 L407.72,364.00 L408.34,364.36 L408.96,364.74 L409.57,365.13 L410.19,365.54 L410.81,365.97 L411.43,366.41 L412.05,366.87 L412.66,367.35 L413.28,367.84 L413.90,368.35 L414.52,368.88 L415.13,369.43 L415.75,370.00 L416.37,370.58 L416.99,371.19 L417.61,371.81 L418.22,372.45 L418.84,373.12 L419.46,373.80 L420.08,374.51 L420.69,375.24 L421.31,375.98 L421.93,376.75 L422.55,377.54 L423.16,378.36 L423.78,379.19 L424.40,380.05 L425.02,380.93 L425.64,381.84 L426.25,382.77 L426.87,383.72 L427.49,384.69 L428.11,385.69 L428.72,386.71 L429.34,387.76 L429.96,388.82 L430.58,389.92 L431.19,391.04 L431.81,392.18 L432.43,393.35 L433.05,394.54 L433.67,395.76 L434.28,397.00 L434.90,398.26 L435.52,399.56 L436.14,400.87 L436.75,402.21 L437.37,403.58 L437.99,404.97 L438.61,406.39 L439.22,407.83 L439.84,409.30 L440.46,410.79 L441.08,412.30 L441.70,413.85 L442.31,415.41 L442.93,417.00 L443.55,418.62 L444.17,420.26 L444.78,421.93 L445.40,423.62 L446.02,425.33" fill="none" stroke="#0898f5" stroke-width="2.9" stroke-linejoin="round" clip-path="url(#c2)"/>
<path d="M43.00,417.25 L52.28,416.39 L61.57,415.54 L70.86,414.68 L80.14,413.83 L89.42,412.98 L98.71,412.13 L108.00,411.28 L117.28,410.43 L126.56,409.59 L135.85,408.74 L145.13,407.90 L154.42,407.06 L163.70,406.22 L172.99,405.39 L182.28,404.55 L191.56,403.72 L200.84,402.89 L210.13,402.06 L219.41,401.23 L228.70,400.40 L237.99,399.58 L247.27,398.75 L256.56,397.93 L265.84,397.11 L275.12,396.29 L284.41,395.48 L293.69,394.66 L302.98,393.85 L312.26,393.05 L321.55,392.25 L322.48,392.18 L323.10,392.12 L323.71,392.07 L324.33,392.02 L324.95,391.97 L325.57,391.91 L326.18,391.86 L326.80,391.81 L327.42,391.76 L328.04,391.71 L328.66,391.65 L329.27,391.60 L329.89,391.55 L330.51,391.50 L331.13,391.45 L331.74,391.40 L332.36,391.35 L332.98,391.30 L333.60,391.24 L334.21,391.19 L334.83,391.14 L335.45,391.09 L336.07,391.04 L336.69,390.99 L337.30,390.94 L337.92,390.89 L338.54,390.84 L339.16,390.79 L339.77,390.74 L340.39,390.69 L341.01,390.65 L341.63,390.60 L342.25,390.55 L342.86,390.50 L343.48,390.45 L344.10,390.40 L344.72,390.36 L345.33,390.31 L345.95,390.26 L346.57,390.22 L347.19,390.17 L347.80,390.12 L348.42,390.08 L349.04,390.03 L349.66,389.99 L350.28,389.94 L350.89,389.90 L351.51,389.85 L352.13,389.81 L352.75,389.77 L353.36,389.72 L353.98,389.68 L354.60,389.64 L355.22,389.60 L355.83,389.56 L356.45,389.52 L357.07,389.48 L357.69,389.44 L358.31,389.40 L358.92,389.36 L359.54,389.32 L360.16,389.29 L360.78,389.25 L361.39,389.22 L362.01,389.18 L362.63,389.15 L363.25,389.12 L363.86,389.08 L364.48,389.05 L365.10,389.02 L365.72,388.99 L366.34,388.97 L366.95,388.94 L367.57,388.91 L368.19,388.89 L368.81,388.87 L369.42,388.84 L370.04,388.82 L370.66,388.80 L371.28,388.78 L371.89,388.77 L372.51,388.75 L373.13,388.74 L373.75,388.73 L374.37,388.72 L374.98,388.71 L375.60,388.70 L376.22,388.70 L376.84,388.69 L377.45,388.69 L378.07,388.69 L378.69,388.70 L379.31,388.70 L379.93,388.71 L380.54,388.72 L381.16,388.74 L381.78,388.75 L382.40,388.77 L383.01,388.79 L383.63,388.82 L384.25,388.85 L384.87,388.88 L385.48,388.91 L386.10,388.95 L386.72,388.99 L387.34,389.04 L387.96,389.09 L388.57,389.14 L389.19,389.20 L389.81,389.26 L390.43,389.33 L391.04,389.40 L391.66,389.48 L392.28,389.56 L392.90,389.64 L393.51,389.74 L394.13,389.83 L394.75,389.94 L395.37,390.05 L395.99,390.16 L396.60,390.28 L397.22,390.41 L397.84,390.55 L398.46,390.69 L399.07,390.84 L399.69,391.00 L400.31,391.17 L400.93,391.34 L401.54,391.52 L402.16,391.71 L402.78,391.91 L403.40,392.12 L404.02,392.34 L404.63,392.57 L405.25,392.80 L405.87,393.05 L406.49,393.31 L407.10,393.58 L407.72,393.86 L408.34,394.16 L408.96,394.46 L409.57,394.78 L410.19,395.11 L410.81,395.45 L411.43,395.80 L412.05,396.17 L412.66,396.56 L413.28,396.95 L413.90,397.36 L414.52,397.79 L415.13,398.23 L415.75,398.69 L416.37,399.16 L416.99,399.65 L417.61,400.16 L418.22,400.68 L418.84,401.22 L419.46,401.78 L420.08,402.35 L420.69,402.95 L421.31,403.56 L421.93,404.19 L422.55,404.84 L423.16,405.51 L423.78,406.20 L424.40,406.91 L425.02,407.64 L425.64,408.39 L426.25,409.17 L426.87,409.96 L427.49,410.78 L428.11,411.61 L428.72,412.47 L429.34,413.36 L429.96,414.26 L430.58,415.19 L431.19,416.14 L431.81,417.11 L432.43,418.11 L433.05,419.13 L433.67,420.17 L434.28,421.24 L434.90,422.34 L435.52,423.45 L436.14,424.59 L436.75,425.76" fill="none" stroke="#0898f5" stroke-width="2.9" stroke-linejoin="round" clip-path="url(#c2)"/>
<g font-family="Liberation Sans, Arial, sans-serif" font-size="14.4" fill="#262626">
<text x="275.3" y="228.2" text-anchor="middle">Voltage (V)</text>
<text x="275.3" y="454.4" text-anchor="middle">Voltage (V)</text>
<text transform="translate(14.6,109.9) rotate(-90)" text-anchor="middle">Current (A)</text>
<text transform="translate(19.2,336.7) rotate(-90)" text-anchor="middle">Power (W)</text>
</g>
<text x="275" y="15.4" text-anchor="middle" font-family="Liberation Sans, Arial, sans-serif" font-weight="bold" font-size="14.1" fill="#000">1 series modules; 1 parallel strings</text>
<g font-family="Liberation Serif, Times New Roman, serif" font-size="22.3" fill="#000">
<text x="264.9" y="248.2" text-anchor="middle">(a)</text>
<text x="265.2" y="474.1" text-anchor="middle">(b)</text>
<text x="436.5" y="48.3" font-size="21.3">0% shading</text>
<text x="434.3" y="74.1" font-size="21.3">20% shading</text>
<text x="434.3" y="100.3" font-size="21.3">40% shading</text>
<text x="434.3" y="126.3" font-size="21.3">60% shading</text>
<text x="436.0" y="153.8" font-size="21.3">80% shading</text>
<text x="426.5" y="271.3" font-size="21.3">0% shading</text>
<text x="424.3" y="297.5" font-size="21.3">20% shading</text>
<text x="424.3" y="323.0" font-size="21.3">40% shading</text>
<text x="424.3" y="348.8" font-size="21.3">60% shading</text>
<text x="426.0" y="377.3" font-size="21.3">80% shading</text>
</g>
<path d="M426.1,41.5 L413.1,46.7" stroke="#000" stroke-width="2.7" stroke-linecap="round" fill="none"/><path d="M396.4,53.5 L410.8,41.0 L415.4,52.5 Z" fill="#000"/>
<path d="M424.3,67.5 L411.3,72.7" stroke="#000" stroke-width="2.7" stroke-linecap="round" fill="none"/><path d="M394.6,79.4 L409.0,66.9 L413.7,78.4 Z" fill="#000"/>
<path d="M424.8,93.0 L412.2,97.9" stroke="#000" stroke-width="2.7" stroke-linecap="round" fill="none"/><path d="M395.5,104.5 L410.0,92.1 L414.5,103.7 Z" fill="#000"/>
<path d="M424.8,119.9 L412.4,124.5" stroke="#000" stroke-width="2.7" stroke-linecap="round" fill="none"/><path d="M395.5,130.8 L410.2,118.7 L414.5,130.3 Z" fill="#000"/>
<path d="M425.4,148.4 L412.6,153.2" stroke="#000" stroke-width="2.7" stroke-linecap="round" fill="none"/><path d="M395.8,159.6 L410.4,147.4 L414.8,159.0 Z" fill="#000"/>
<path d="M415.5,256.3 L402.8,261.4" stroke="#000" stroke-width="2.7" stroke-linecap="round" fill="none"/><path d="M386.1,268.1 L400.5,255.6 L405.1,267.1 Z" fill="#000"/>
<path d="M413.4,282.3 L400.6,287.3" stroke="#000" stroke-width="2.7" stroke-linecap="round" fill="none"/><path d="M383.9,293.9 L398.4,281.5 L402.9,293.1 Z" fill="#000"/>
<path d="M413.3,312.8 L400.5,317.8" stroke="#000" stroke-width="2.7" stroke-linecap="round" fill="none"/><path d="M383.7,324.3 L398.2,312.0 L402.7,323.5 Z" fill="#000"/>
<path d="M413.7,342.7 L400.4,347.9" stroke="#000" stroke-width="2.7" stroke-linecap="round" fill="none"/><path d="M383.7,354.6 L398.1,342.2 L402.7,353.7 Z" fill="#000"/>
<path d="M415.3,372.1 L402.4,377.3" stroke="#000" stroke-width="2.7" stroke-linecap="round" fill="none"/><path d="M385.7,384.1 L400.1,371.6 L404.7,383.1 Z" fill="#000"/>
</g></svg></body></html>
